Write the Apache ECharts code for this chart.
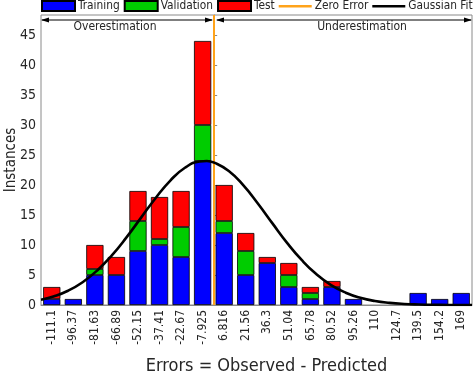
<!DOCTYPE html>
<html>
<head>
<meta charset="utf-8">
<script src="https://cdn.jsdelivr.net/npm/echarts@6/dist/echarts.min.js"></script>
<style>
html,body{margin:0;padding:0;background:#fff;}
#chart{width:474px;height:376px;}
</style>
</head>
<body>
<div id="chart"></div>
<script>
// ---- data ----
const categories = ['-111.1','-96.37','-81.63','-66.89','-52.15','-37.41','-22.67','-7.925','6.816','21.56','36.3','51.04','65.78','80.52','95.26','110','124.7','139.5','154.2','169'];
const training   = [1, 1, 5, 5, 9, 10, 8, 24, 12, 5, 7, 3, 1, 3, 1, 0, 0, 2, 1, 2];
const validation = [0, 0, 1, 0, 5, 1, 5, 6, 2, 4, 0, 2, 1, 0, 0, 0, 0, 0, 0, 0];
const test       = [2, 0, 4, 3, 5, 7, 6, 14, 6, 3, 1, 2, 1, 1, 0, 0, 0, 0, 0, 0];
// Gaussian fit curve (x in error units, y in instances)
const fitX = [-118.47,-110,-100,-90,-80,-70,-60,-50,-40,-30,-20,-10,-5,0,10,20,30,40,50,60,70,80,90,100,110,120,130,140,150,160,170,176.37];
const fitY = [0.87,1.42,2.38,3.80,5.76,8.27,11.27,14.56,17.84,20.74,22.87,23.92,24.0,23.73,22.33,19.93,16.88,13.56,10.32,7.46,5.11,3.32,2.05,1.20,0.66,0.35,0.17,0.08,0.03,0.01,0.00,0.00];
const zeroError = 0;
const xRange = [-118.47, 176.37];
const yTicks = [0, 5, 10, 15, 20, 25, 30, 35, 40, 45];

const FF = "'DejaVu Sans Condensed', 'DejaVu Sans', sans-serif";
const TXT = '#262626';
const AX = '#8a8a8a';
const nz = a => a.map(v => (v === 0 ? '-' : v));
const lineIcon = 'path://M0,0 M0,4 L33,4 L33,6.5 L0,6.5 Z M33,10';

const chart = echarts.init(document.getElementById('chart'), null, {renderer: 'canvas'});
chart.setOption({
  animation: false,
  backgroundColor: '#fff',
  textStyle: {fontFamily: FF},
  grid: {left: 41, right: 2, top: 15, bottom: 71, containLabel: false, outerBoundsMode: 'none',
    show: true, borderColor: AX, borderWidth: 1, backgroundColor: 'transparent'},
  legend: {
    left: 41, top: 0, padding: 0, width: 470, itemWidth: 33, itemHeight: 10, itemGap: 4,
    textStyle: {fontFamily: FF, fontSize: 11.8, color: TXT, padding: [1, 0, 0, -2]},
    data: [
      {name: 'Training', icon: 'rect'},
      {name: 'Validation', icon: 'rect'},
      {name: 'Test', icon: 'rect'},
      {name: 'Zero Error', icon: lineIcon, itemStyle: {borderWidth: 0}},
      {name: 'Gaussian Fit', icon: lineIcon, itemStyle: {borderWidth: 0}}
    ]
  },
  xAxis: [
    {
      type: 'category', data: categories, gridIndex: 0,
      axisLine: {lineStyle: {color: AX}},
      axisTick: {inside: true, length: 3, alignWithLabel: true, lineStyle: {color: AX}},
      axisLabel: {rotate: 90, fontFamily: FF, fontSize: 12, color: TXT, margin: 5, interval: 0},
      name: 'Errors = Observed - Predicted', nameLocation: 'middle', nameGap: 52,
      nameTextStyle: {fontFamily: FF, fontSize: 18, color: TXT, padding: [0, 0, 0, 20]}
    },
    {
      type: 'value', min: xRange[0], max: xRange[1], show: false, gridIndex: 0
    }
  ],
  yAxis: {
    type: 'value', min: 0, max: 48.33, interval: 5,
    axisLine: {show: true, lineStyle: {color: AX}},
    axisTick: {show: true, inside: true, length: 3, lineStyle: {color: AX}},
    axisLabel: {fontFamily: FF, fontSize: 14, color: TXT, margin: 5, showMaxLabel: false,
      formatter: v => (yTicks.indexOf(v) >= 0 ? String(v) : '')},
    splitLine: {show: false},
    name: 'Instances', nameLocation: 'middle', nameGap: 22, nameRotate: 90, nameMoveOverlap: false,
    nameTextStyle: {fontFamily: FF, fontSize: 15, color: TXT, padding: [0, 0, 0, 0]}
  },
  series: [
    {name: 'Training', type: 'bar', stack: 'err', data: nz(training), barCategoryGap: '20%',
      itemStyle: {color: '#0000ff', borderColor: '#000', borderWidth: 0.8}},
    {name: 'Validation', type: 'bar', stack: 'err', data: nz(validation),
      itemStyle: {color: '#00cc00', borderColor: '#000', borderWidth: 0.8}},
    {name: 'Test', type: 'bar', stack: 'err', data: nz(test),
      itemStyle: {color: '#ff0000', borderColor: '#000', borderWidth: 0.8}},
    {name: 'Zero Error', type: 'line', xAxisIndex: 1, data: [], symbol: 'none',
      itemStyle: {color: '#ffa31a'}, lineStyle: {color: '#ffa31a', width: 2},
      markLine: {silent: true, symbol: 'none', label: {show: false},
        lineStyle: {color: '#ffa31a', width: 2, type: 'solid'},
        data: [{xAxis: zeroError}]}},
    {name: 'Gaussian Fit', type: 'line', xAxisIndex: 1, smooth: true, symbol: 'none',
      data: fitX.map((x, i) => [x, fitY[i]]), z: 5,
      itemStyle: {color: '#000'}, lineStyle: {color: '#000', width: 2.6}}
  ],
  graphic: [
    {type: 'line', shape: {x1: 42, y1: 20, x2: 212, y2: 20}, style: {stroke: '#000', lineWidth: 1}, silent: true},
    {type: 'polygon', shape: {points: [[41, 20], [49, 17.5], [49, 22.5]]}, style: {fill: '#000'}, silent: true},
    {type: 'polygon', shape: {points: [[213, 20], [205, 17.5], [205, 22.5]]}, style: {fill: '#000'}, silent: true},
    {type: 'line', shape: {x1: 217, y1: 20, x2: 471, y2: 20}, style: {stroke: '#000', lineWidth: 1}, silent: true},
    {type: 'polygon', shape: {points: [[216, 20], [224, 17.5], [224, 22.5]]}, style: {fill: '#000'}, silent: true},
    {type: 'polygon', shape: {points: [[472, 20], [464, 17.5], [464, 22.5]]}, style: {fill: '#000'}, silent: true},
    {type: 'text', x: 115, y: 27, style: {text: 'Overestimation', fontFamily: FF, fontSize: 12, fill: TXT, textAlign: 'center', textVerticalAlign: 'middle'}, silent: true},
    {type: 'text', x: 362, y: 27, style: {text: 'Underestimation', fontFamily: FF, fontSize: 12, fill: TXT, textAlign: 'center', textVerticalAlign: 'middle'}, silent: true}
  ]
});
</script>
</body>
</html>
